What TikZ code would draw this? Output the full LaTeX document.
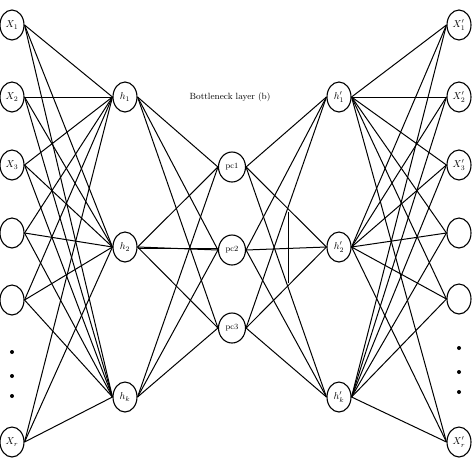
\documentclass[tikz,border=0pt]{standalone}
\usetikzlibrary{shapes.geometric}
\begin{document}
\begin{tikzpicture}[x=1pt,y=-1pt,
    neuron/.style={draw,line width=1.1pt,ellipse,minimum width=24pt,minimum height=30pt,inner sep=0pt,font=\normalsize},
    link/.style={line width=1pt}]
    \useasboundingbox (0,0) rectangle (474,474);
    \foreach \i/\y in {1/25,2/97,3/165}
        \node[neuron] (x\i) at (12,\y) {$X_\i$};
    \node[neuron] (x4) at (12,233) {};
    \node[neuron] (x5) at (12,300) {};
    \node[neuron] (x6) at (12,442) {$X_r$};
    \foreach \i/\y in {1/25,2/97,3/165}
        \node[neuron] (y\i) at (459,\y) {$X'_\i$};
    \node[neuron] (y4) at (459,233) {};
    \node[neuron] (y5) at (459,299) {};
    \node[neuron] (y6) at (459,442) {$X'_r$};
    \node[neuron] (h1) at (125,97) {$h_1$};
    \node[neuron] (h2) at (125,247) {$h_2$};
    \node[neuron] (h3) at (125,397) {$h_k$};
    \node[neuron] (g1) at (339,97) {$h'_1$};
    \node[neuron] (g2) at (339,247) {$h'_2$};
    \node[neuron] (g3) at (339,397) {$h'_k$};
    \foreach \i/\y in {1/167,2/250,3/328}
        \node[neuron,minimum width=27pt,font=\footnotesize] (pc\i) at (232,\y) {pc\i};
    \node (title) at (230,97) {\small Bottleneck layer (b)};
    \foreach \y in {352,376,396} {
        \fill (12,\y) circle (2);
        \fill (459,\y-4) circle (2);
    }
    \foreach \i in {1,...,6}
        \foreach \j in {1,2,3} {
            \draw[link] (x\i.east) -- (h\j.west);
            \draw[link] (g\j.east) -- (y\i.west);
        }
    \foreach \i in {1,2,3}
        \foreach \j in {1,2,3} {
            \draw[link] (h\i.east) -- (pc\j.west);
            \draw[link] (pc\i.east) -- (g\j.west);
        }
    \draw[link] (h2.east) ++(0,1.5) -- ([yshift=1.5pt]pc2.west);
    \draw[link] (288,212) -- (288,283);
\end{tikzpicture}
\end{document}
